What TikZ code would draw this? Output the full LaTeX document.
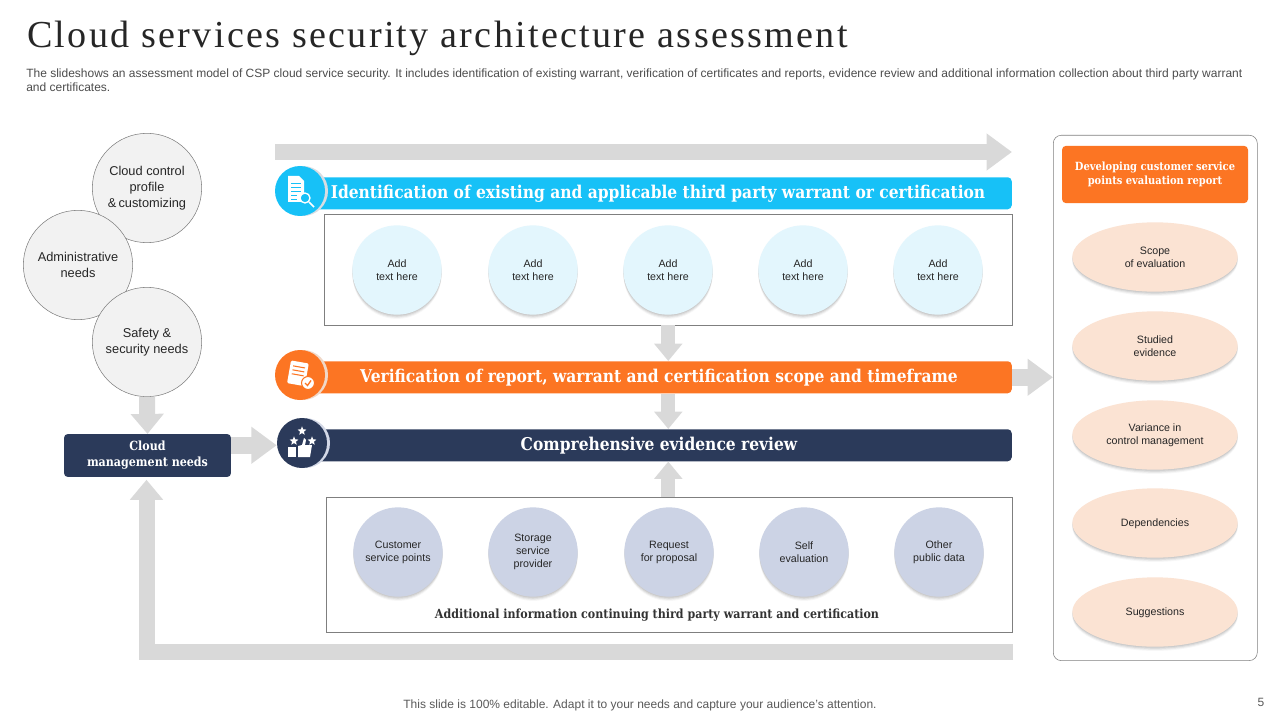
\documentclass[tikz,border=0pt]{standalone}
\usepackage{fontspec}
\setmainfont{Liberation Sans}
\newfontfamily\titlefont[LetterSpace=6]{Liberation Serif}
\newfontfamily\headfont[FakeStretch=0.88]{DejaVu Serif}
\usetikzlibrary{arrows.meta,shapes.geometric,shadows}
\definecolor{skyblue}{HTML}{17C1F7}
\definecolor{skyring}{HTML}{D9DDE2}
\definecolor{skylight}{HTML}{E3F6FD}
\definecolor{brandorange}{HTML}{FC7523}
\definecolor{orangering}{HTML}{F0D8C8}
\definecolor{peach}{HTML}{FBE3D3}
\definecolor{navy}{HTML}{2B3A5A}
\definecolor{navyring}{HTML}{D3D8E6}
\definecolor{slate}{HTML}{CCD3E5}
\definecolor{arrowgray}{HTML}{D9D9D9}
\definecolor{edgegray}{HTML}{7F7F7F}
\begin{document}
\begin{tikzpicture}[x=0.75pt,y=-0.75pt,
	grayarrow/.style={draw=arrowgray,line width=12pt,-{Triangle[width=24pt,length=15pt]}},
	longarrow/.style={draw=arrowgray,line width=12.5pt,-{Triangle[width=26.5pt,length=19pt]}},
	smallarrow/.style={draw=arrowgray,line width=10.5pt,-{Triangle[width=20.5pt,length=13pt]}},
	softshadow/.style={drop shadow={shadow xshift=0pt,shadow yshift=-0.8pt,opacity=.07,fill=black},drop shadow={shadow xshift=0pt,shadow yshift=-1.6pt,opacity=.06,fill=black},drop shadow={shadow xshift=0pt,shadow yshift=-2.4pt,opacity=.05,fill=black},drop shadow={shadow xshift=0pt,shadow yshift=-3.2pt,opacity=.03,fill=black}},
	needcircle/.style={circle,draw=edgegray,fill=black!5,minimum size=82pt,inner sep=0pt,align=center,font=\fontsize{9.6}{12}\selectfont,text=black!85},
	addcircle/.style={circle,fill=skylight,minimum size=67pt,inner sep=0pt,align=center,font=\fontsize{8}{9.8}\selectfont,text=black!85,softshadow},
	infocircle/.style={addcircle,fill=slate},
	pointellipse/.style={ellipse,fill=peach,minimum width=124pt,minimum height=52pt,inner sep=0pt,align=center,font=\fontsize{8}{9.8}\selectfont,text=black!85,softshadow},
	headbar/.style={rounded corners=3pt,minimum width=523pt,minimum height=24pt,inner sep=0pt,anchor=north east},
	headtext/.style={font=\headfont\bfseries\fontsize{13.2}{16}\selectfont,text=white,inner sep=0pt},
	framebox/.style={draw=edgegray,fill=white,inner sep=0pt,anchor=north west},
	iconring/.style={circle,minimum size=37.5pt,inner sep=0pt},
	iconcircle/.style={circle,minimum size=37.5pt,inner sep=0pt},
	starmark/.style={star,star points=5,star point ratio=2.3,fill=white,minimum size=7pt,inner sep=0pt}
]
\useasboundingbox (0,0) rectangle (1280,720);

\node[anchor=west,inner sep=0pt,font=\titlefont\fontsize{28.6}{30}\selectfont,text=black!85] (title) at (27,38) {Cloud services security architecture assessment};
\node[anchor=north west,inner sep=0pt,align=left,font=\fontsize{9}{10.5}\selectfont,text=black!70] (intro) at (26,69) {The slideshows an assessment model of CSP cloud service security. It includes identification of existing warrant, verification of certificates and reports, evidence review and additional information collection about third party warrant\\and certificates.};

% frames
\node[framebox,minimum width=516pt,minimum height=83pt] (boxone) at (324,214) {};
\node[framebox,minimum width=514.5pt,minimum height=101pt] (boxtwo) at (326,497) {};
\node[framebox,rounded corners=6pt,minimum width=153pt,minimum height=394pt] (panel) at (1053,135) {};

% bars
\node[headbar,fill=skyblue] (barblue) at (1012,177) {};
\node[headbar,fill=brandorange] (barorange) at (1012,361) {};
\node[headbar,fill=navy] (barnavy) at (1012,429) {};
\node[headtext] (textblue) at (658,194) {Identification of existing and applicable third party warrant or certification};
\node[headtext] (textorange) at (659,378) {Verification of report, warrant and certification scope and timeframe};
\node[headtext] (textnavy) at (659,446) {Comprehensive evidence review};

% icons
\node[iconring,fill=skyring] (ringblue) at (303,191) {};
\node[iconcircle,fill=skyblue] (iconblue) at (300,191) {};
\node[iconring,fill=orangering] (ringorange) at (303,375) {};
\node[iconcircle,fill=brandorange] (iconorange) at (300,375) {};
\node[iconring,fill=navyring] (ringnavy) at (305,443) {};
\node[iconcircle,fill=navy] (iconnavy) at (302,443) {};

\fill[white] (288,176) -- (299,176) -- (304,181) -- (304,202) -- (288,202) -- cycle;
\draw[skyblue,line width=0.7pt] (291,183) -- (301,183) (291,187) -- (301,187) (291,191) -- (301,191) (291,195) -- (297,195) (291,199) -- (297,199);
\draw[fill=skyblue,draw=white,line width=1pt] (305,198) circle (5);
\draw[white,line width=1.2pt] (309,202) -- (314,207);

\begin{scope}[rotate around={-10:(299,373)}]
\fill[white,rounded corners=1pt] (289,362) -- (307,362) -- (307,385) -- (289,385) -- cycle;
\draw[brandorange,line width=0.8pt] (292,367) -- (304,367) (292,371) -- (304,371) (292,375) -- (304,375);
\end{scope}
\draw[fill=white,draw=brandorange,line width=0.8pt] (308,383) circle (6.5);
\draw[brandorange,line width=1pt] (305,383) -- (307.5,385.5) -- (311,380.5);

\node[starmark] (starmid) at (302,431) {};
\node[starmark] (starleft) at (294,441) {};
\node[starmark] (starright) at (312,441) {};
\fill[white] (288,447) rectangle (296,457);
\fill[white] (298,446) -- (302,445) -- (304,438) -- (306,440) -- (305,445) -- (312,445) -- (310,457) -- (298,457) -- cycle;

% left side
\node[needcircle] (needcloud) at (147,188) {Cloud control\\profile\\\&\,customizing};
\node[needcircle] (needadmin) at (78,265) {Administrative\\needs};
\node[needcircle] (needsafety) at (147,342) {Safety \&\\security needs};
\node[fill=navy,rounded corners=2.5pt,minimum width=125pt,minimum height=32pt,inner sep=0pt,align=center,font=\headfont\bfseries\fontsize{9.45}{12}\selectfont,text=white] (cloudneeds) at (147.5,455.5) {Cloud\\management needs};

% circles in frames
\node[addcircle] (addone) at (397,270) {Add\\text here};
\node[addcircle] (addtwo) at (533,270) {Add\\text here};
\node[addcircle] (addthree) at (668,270) {Add\\text here};
\node[addcircle] (addfour) at (803,270) {Add\\text here};
\node[addcircle] (addfive) at (938,270) {Add\\text here};
\node[infocircle] (infoone) at (398,552) {Customer\\service points};
\node[infocircle] (infotwo) at (533,552) {Storage\\service\\provider};
\node[infocircle] (infothree) at (669,552) {Request\\for proposal};
\node[infocircle] (infofour) at (804,552) {Self\\evaluation};
\node[infocircle] (infofive) at (939,552) {Other\\public data};
\node[inner sep=0pt,font=\headfont\bfseries\fontsize{9.45}{12}\selectfont,text=black!80] (infotext) at (657,615.5) {Additional information continuing third party warrant and certification};

% right side
\node[fill=brandorange,rounded corners=3pt,minimum width=139.5pt,minimum height=43pt,inner sep=0pt,align=center,font=\headfont\bfseries\fontsize{8.45}{10.6}\selectfont,text=white] (reporthead) at (1155,174.5) {Developing customer service\\points evaluation report};
\node[pointellipse] (pointone) at (1155,257) {Scope\\of evaluation};
\node[pointellipse] (pointtwo) at (1155,346) {Studied\\evidence};
\node[pointellipse] (pointthree) at (1155,435) {Variance in\\control management};
\node[pointellipse,text depth=0pt] (pointfour) at (1155,523) {Dependencies};
\node[pointellipse,text depth=0pt] (pointfive) at (1155,612) {Suggestions};

% arrows
\coordinate (topstart) at (275,152);
\coordinate (topend) at (1012,152);
\coordinate (returnstart) at (1013,652);
\draw[longarrow] (topstart) -- (topend);
\draw[grayarrow] (needsafety.south) -- (cloudneeds.north);
\draw[longarrow] (cloudneeds.east |- barnavy.west) -- (iconnavy.west |- barnavy.west);
\draw[smallarrow] (boxone.south) -- (barorange.north -| boxone.south);
\draw[smallarrow] (barorange.south -| boxone.south) -- (barnavy.north -| boxone.south);
\draw[smallarrow] (boxtwo.north -| boxone.south) -- (barnavy.south -| boxone.south);
\draw[longarrow] (barorange.east) -- (panel.west |- barorange.east);
\draw[grayarrow,shorten >=2pt] (returnstart) -| ([xshift=-0.75pt]cloudneeds.south);

\node[inner sep=0pt,font=\fontsize{9}{11}\selectfont,text=black!65] (footer) at (640,705) {This slide is 100\% editable. Adapt it to your needs and capture your audience’s attention.};
\node[inner sep=0pt,font=\fontsize{9}{11}\selectfont,text=black!65] (pagenum) at (1261,702) {5};
\end{tikzpicture}
\end{document}
